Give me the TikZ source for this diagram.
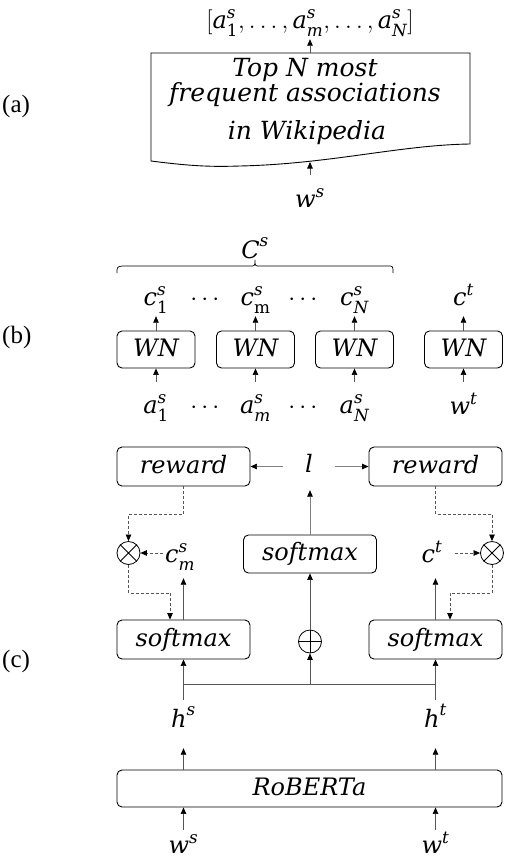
\documentclass[tikz,border=0pt]{standalone}
\usepackage{amsmath}
\usepackage{fontspec}
\setmainfont{Liberation Serif}
\newfontfamily\wf{DejaVu Serif}
\newcommand\wi{\wf\itshape}
\newcommand\V[1]{\text{\wi #1}}
\newcommand\U[1]{\text{\wf #1}}
\newcommand\sbx[1]{\lower2pt\hbox{$\scriptstyle #1$}}
\usetikzlibrary{arrows.meta}
\definecolor{lnclr}{RGB}{85,85,85}
\definecolor{lgray}{RGB}{128,128,128}
\begin{document}
\begin{tikzpicture}[x=1pt,y=-1pt,
 font=\fontsize{24}{28}\selectfont,
 blk/.tip={Triangle[length=6.5pt,width=5.5pt,color=black]},
 arr/.style={draw=lnclr, line width=0.7pt, -{blk}},
 garr/.style={arr, draw=lgray},
 darr/.style={arr, dash pattern=on 3pt off 2pt},
 ln/.style={draw=lnclr, line width=0.7pt},
 box/.style={draw=black, line width=0.9pt, rounded corners=5pt, inner sep=0pt, text height=18pt, text depth=5pt, font=\fontsize{24}{28}\selectfont\wi},
 lab/.style={inner sep=0pt, anchor=base},
 wlab/.style={lab, font=\fontsize{25}{28}\selectfont\wi},
 sec/.style={inner sep=0pt, anchor=west, font=\fontsize{25}{28}\selectfont},
 opc/.style={circle, draw=black, line width=0.8pt, minimum size=23pt, inner sep=0pt}
]
\useasboundingbox (0,0) rectangle (505,860);

% ---------- (a)
\node[sec] (la) at (2,106) {(a)};
\node[lab, text depth=11pt] (alist) at (310,28) {$[\V{a}^{\V{s}}_{\sbx{\U{1}}}, \ldots, \V{a}^{\V{s}}_{\sbx{\V{m}}}, \ldots, \V{a}^{\V{s}}_{\sbx{\V{N}}}]$};
\draw[black, line width=0.9pt] (151,161) -- (151,53) -- (470,53) -- (470,144) .. controls (400,145) and (330,164) .. (240,166) .. controls (210,167) and (190,166) .. (151,161) -- cycle;
\coordinate (doctop) at (310,53);
\coordinate (docbot) at (310,162);
\node[wlab] (d1) at (305,76) {Top N most};
\node[wlab] (d2) at (305,101) {frequent associations};
\node[wlab] (d3) at (307,139) {in Wikipedia};
\node[lab, text height=32pt] (ws1) at (310,207) {$\V{w}^{\V{s}}$};
\draw[arr] (doctop) -- (alist.south);
\draw[arr] (ws1.north) -- (docbot);

% ---------- (b)
\node[sec] (lb) at (2,337) {(b)};
\node[lab] (Cs) at (255,258) {$\V{C}^{\V{s}}$};
\draw[black, line width=0.7pt] (117,273) .. controls (117,267) .. (122,266) -- (250,266) .. controls (255,266) .. (255,260) .. controls (255,266) .. (260,266) -- (388,266) .. controls (393,266) .. (393,273);

\node[lab, text depth=11pt] (c1) at (156,305) {$\V{c}^{\V{s}}_{\sbx{\U{1}}}$};
\node[lab] (dots1) at (207,305) {$\cdots$};
\node[lab, text depth=11pt] (cm) at (255.5,305) {$\V{c}^{\V{s}}_{\sbx{\U{m}}}$};
\node[lab] (dots2) at (305,305) {$\cdots$};
\node[lab, text depth=11pt] (cN) at (354.5,305) {$\V{c}^{\V{s}}_{\sbx{\V{N}}}$};
\node[lab, text depth=11pt] (ct1) at (463.5,305) {$\V{c}^{\V{t}}$};

\node[box, minimum width=78pt, minimum height=37pt] (wn1) at (156,349.5) {WN};
\node[box, minimum width=78pt, minimum height=37pt] (wn2) at (255.5,349.5) {WN};
\node[box, minimum width=78pt, minimum height=37pt] (wn3) at (354.5,349.5) {WN};
\node[box, minimum width=78pt, minimum height=37pt] (wn4) at (463.5,349.5) {WN};

\node[lab, text height=31pt] (a1) at (156,413) {$\V{a}^{\V{s}}_{\sbx{\U{1}}}$};
\node[lab] (dots3) at (207,413) {$\cdots$};
\node[lab, text height=31pt] (am) at (255.5,413) {$\V{a}^{\V{s}}_{\sbx{\V{m}}}$};
\node[lab] (dots4) at (305,413) {$\cdots$};
\node[lab, text height=31pt] (aN) at (354.5,413) {$\V{a}^{\V{s}}_{\sbx{\V{N}}}$};
\node[lab, text height=32pt] (wt1) at (463.5,414) {$\V{w}^{\V{t}}$};

\foreach \i/\o/\n in {a1/c1/wn1, am/cm/wn2, aN/cN/wn3, wt1/ct1/wn4}{
  \draw[arr] (\i.north) -- (\n.south);
  \draw[arr] (\n.north) -- (\o.south);
}

% ---------- (c)
\node[sec] (lc) at (2,661) {(c)};
\node[box, minimum width=133pt, minimum height=39pt] (rewL) at (183.5,466.5) {reward};
\node[box, minimum width=133pt, minimum height=39pt] (rewR) at (435.5,466.5) {reward};
\node[lab, text height=29pt, text depth=18pt, minimum width=51pt] (l) at (309,472) {$\V{l}$};
\node[box, minimum width=133pt, minimum height=38pt] (smC) at (310,554) {softmax};

\node[opc] (otL) at (128.5,553) {};
\draw[black, line width=0.8pt] (otL.north west) -- (otL.south east) (otL.north east) -- (otL.south west);
\node[opc] (otR) at (492,553) {};
\draw[black, line width=0.8pt] (otR.north west) -- (otR.south east) (otR.north east) -- (otR.south west);

\node[lab, text height=34pt, text depth=16pt, minimum width=34pt] (cms) at (180,562) {$\V{c}^{\V{s}}_{\sbx{\V{m}}}$};
\node[lab, text height=34pt, text depth=16pt, minimum width=46pt] (ct2) at (432,562) {$\V{c}^{\V{t}}$};

\node[box, minimum width=133pt, minimum height=39pt] (smL) at (183.5,639.5) {softmax};
\node[box, minimum width=133pt, minimum height=39pt] (smR) at (435.5,639.5) {softmax};
\node[opc] (op) at (310,641.5) {};
\draw[black, line width=0.8pt] (op.north) -- (op.south) (op.west) -- (op.east);

\node[lab, text height=27pt, text depth=21pt] (hs) at (183.5,727) {$\V{h}^{\V{s}}$};
\node[lab, text height=27pt, text depth=21pt] (ht) at (435.5,727) {$\V{h}^{\V{t}}$};
\node[box, minimum width=385pt, minimum height=37pt] (rob) at (309.5,788.5) {RoBERTa};
\node[lab, text height=23pt] (ws2) at (183.5,853) {$\V{w}^{\V{s}}$};
\node[lab, text height=23pt] (wt2) at (435.5,853) {$\V{w}^{\V{t}}$};

% connectors (c)
\draw[garr] (l.west) -- (rewL.east);
\draw[garr] (l.east) -- (rewR.east -| rewR.west);
\draw[garr] (smC.north) -- (smC.north |- l.south);

\draw[darr] (rewL.south) -- ++(0,28) -| (otL.north);
\draw[darr] (cms.west) -- (otL.east);
\draw[darr] (otL.south) -- ++(0,28) -| ([xshift=-13.5pt]smL.north);
\draw[arr] (smL.north) -- (smL.north |- cms.south);

\draw[darr] (rewR.south) -- ++(0,28) -| (otR.north);
\draw[darr] (ct2.east) -- (otR.west);
\draw[darr] (otR.south) -- ++(0,28) -| ([xshift=14.5pt]smR.north);
\draw[arr] (smR.north) -- (smR.north |- ct2.south);

\coordinate (jl) at (183.5,684);
\coordinate (jr) at (435.5,684);
\coordinate (jc) at (310,684);
\draw[ln] (jl) -- (jr);
\draw[arr] (hs.north) -- (smL.south);
\draw[arr] (ht.north) -- (smR.south);
\draw[arr] (jc) -- (op.south);
\draw[arr] (op.north) -- (smC.south);

\draw[arr] (rob.north -| hs) -- (hs.south);
\draw[arr] (rob.north -| ht) -- (ht.south);
\draw[arr] (ws2.north) -- (ws2.north |- rob.south);
\draw[arr] (wt2.north) -- (wt2.north |- rob.south);
\end{tikzpicture}
\end{document}
